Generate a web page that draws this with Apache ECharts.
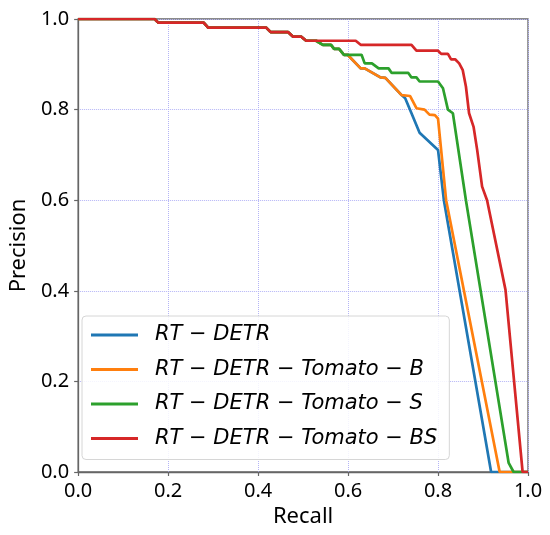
<!DOCTYPE html>
<html>
<head>
<meta charset="utf-8">
<script src="https://cdn.jsdelivr.net/npm/echarts@6/dist/echarts.min.js"></script>
<style>
  html, body { margin: 0; padding: 0; background: #fff; }
  #chart { width: 550px; height: 535px; }
</style>
</head>
<body>
<div id="chart"></div>
<script>
// Series names (legend)
const seriesNames = [
  'RT − DETR',
  'RT − DETR − Tomato − B',
  'RT − DETR − Tomato − S',
  'RT − DETR − Tomato − BS'
];
const seriesColors = ['#1f77b4', '#ff7f0e', '#2ca02c', '#d62728'];

// Axis ticks
const axisTicks = [0.0, 0.2, 0.4, 0.6, 0.8, 1.0];

// Shared beginning of all four PR curves: [recall, precision]
const commonHead = [
  [0.000, 1.000], [0.170, 1.000], [0.178, 0.992], [0.279, 0.992],
  [0.289, 0.981], [0.418, 0.981], [0.428, 0.971], [0.467, 0.971],
  [0.478, 0.961], [0.496, 0.961], [0.507, 0.952], [0.529, 0.952]
];

// Shared part of B / S curves before they split
const greenOrangeShared = [
  [0.544, 0.943], [0.562, 0.943], [0.569, 0.934], [0.580, 0.934],
  [0.591, 0.921], [0.599, 0.921]
];

// Shared part of RT-DETR and Tomato-B before they split
const blueOrangeShared = [
  [0.628, 0.891], [0.637, 0.891], [0.672, 0.871], [0.683, 0.870],
  [0.719, 0.832]
];

const rtdetrTail = [
  [0.727, 0.825], [0.741, 0.792], [0.759, 0.749], [0.800, 0.711],
  [0.813, 0.600], [0.918, 0.000], [1.000, 0.000]
];

const tomatoBTail = [
  [0.738, 0.830], [0.752, 0.803], [0.770, 0.800], [0.781, 0.789],
  [0.793, 0.788], [0.800, 0.780], [0.818, 0.600], [0.937, 0.000],
  [1.000, 0.000]
];

const tomatoSTail = [
  [0.630, 0.921], [0.637, 0.902], [0.653, 0.902], [0.668, 0.891],
  [0.690, 0.891], [0.697, 0.881], [0.734, 0.881], [0.741, 0.871],
  [0.752, 0.871], [0.759, 0.862], [0.800, 0.862], [0.811, 0.847],
  [0.822, 0.800], [0.833, 0.792], [0.862, 0.600], [0.957, 0.020],
  [0.968, 0.000], [1.000, 0.000]
];

const tomatoBSTail = [
  [0.617, 0.952], [0.628, 0.943], [0.741, 0.943], [0.752, 0.930],
  [0.800, 0.930], [0.807, 0.923], [0.822, 0.923], [0.829, 0.911],
  [0.838, 0.911], [0.847, 0.902], [0.855, 0.887], [0.862, 0.851],
  [0.869, 0.792], [0.879, 0.762], [0.887, 0.711], [0.898, 0.630],
  [0.909, 0.600], [0.950, 0.402], [0.988, 0.000], [1.000, 0.000]
];

const rtdetr = commonHead.concat(greenOrangeShared, blueOrangeShared, rtdetrTail);
const tomatoB = commonHead.concat(greenOrangeShared, blueOrangeShared, tomatoBTail);
const tomatoS = commonHead.concat(greenOrangeShared.slice(0, 5), tomatoSTail);
const tomatoBS = commonHead.concat(tomatoBSTail);
const seriesData = [rtdetr, tomatoB, tomatoS, tomatoBS];

const chart = echarts.init(document.getElementById('chart'), null, { renderer: 'canvas' });

const frameColor = '#666666';
const gridLineColor = '#b4b4f6';
const tickFont = { fontFamily: 'Noto Sans', fontSize: 20, color: '#000' };

function valueAxis(name, extra) {
  return Object.assign({
    type: 'value',
    min: 0,
    max: 1,
    interval: 0.2,
    name: name,
    nameLocation: 'middle',
    nameTextStyle: { fontFamily: 'Noto Sans', fontSize: 22, color: '#000' },
    axisLine: { show: true, onZero: false, lineStyle: { color: frameColor, width: 1.3 } },
    axisTick: { show: true, inside: false, length: 4, lineStyle: { color: frameColor, width: 1.2 } },
    axisLabel: Object.assign({ formatter: v => axisTicks.includes(+v.toFixed(1)) ? v.toFixed(1) : '' }, tickFont),
    splitLine: { show: true, lineStyle: { color: gridLineColor, type: 'dotted', width: 1 } }
  }, extra);
}

const option = {
  animation: false,
  backgroundColor: '#ffffff',
  grid: {
    left: 72, right: 22, top: 19, bottom: 63,
    show: true, borderColor: frameColor, borderWidth: 1.3, backgroundColor: 'transparent'
  },
  xAxis: valueAxis('Recall', { nameGap: 34, axisLabel: Object.assign({ margin: 9, formatter: v => v.toFixed(1) }, tickFont) }),
  yAxis: valueAxis('Precision', { nameGap: 46, axisLabel: Object.assign({ margin: 9, formatter: v => v.toFixed(1) }, tickFont) }),
  legend: {
    orient: 'vertical',
    left: 82,
    top: 316,
    padding: [7, 12, 9, 9],
    itemGap: 10.5,
    itemWidth: 47,
    itemHeight: 3,
    icon: 'rect',
    backgroundColor: 'rgba(255,255,255,0.85)',
    borderColor: '#d6d6d6',
    borderWidth: 1,
    borderRadius: 4,
    textStyle: {
      fontFamily: 'DejaVu Sans',
      fontStyle: 'italic',
      fontSize: 21,
      lineHeight: 24,
      color: '#000',
      padding: [0, 0, 0, 12]
    },
    data: seriesNames
  },
  series: seriesData.map((d, i) => ({
    name: seriesNames[i],
    type: 'line',
    data: d,
    showSymbol: false,
    symbol: 'none',
    color: seriesColors[i],
    lineStyle: { color: seriesColors[i], width: 2.7 },
    itemStyle: { color: seriesColors[i] },
    z: 2 + i
  }))
};

chart.setOption(option);
</script>
</body>
</html>
